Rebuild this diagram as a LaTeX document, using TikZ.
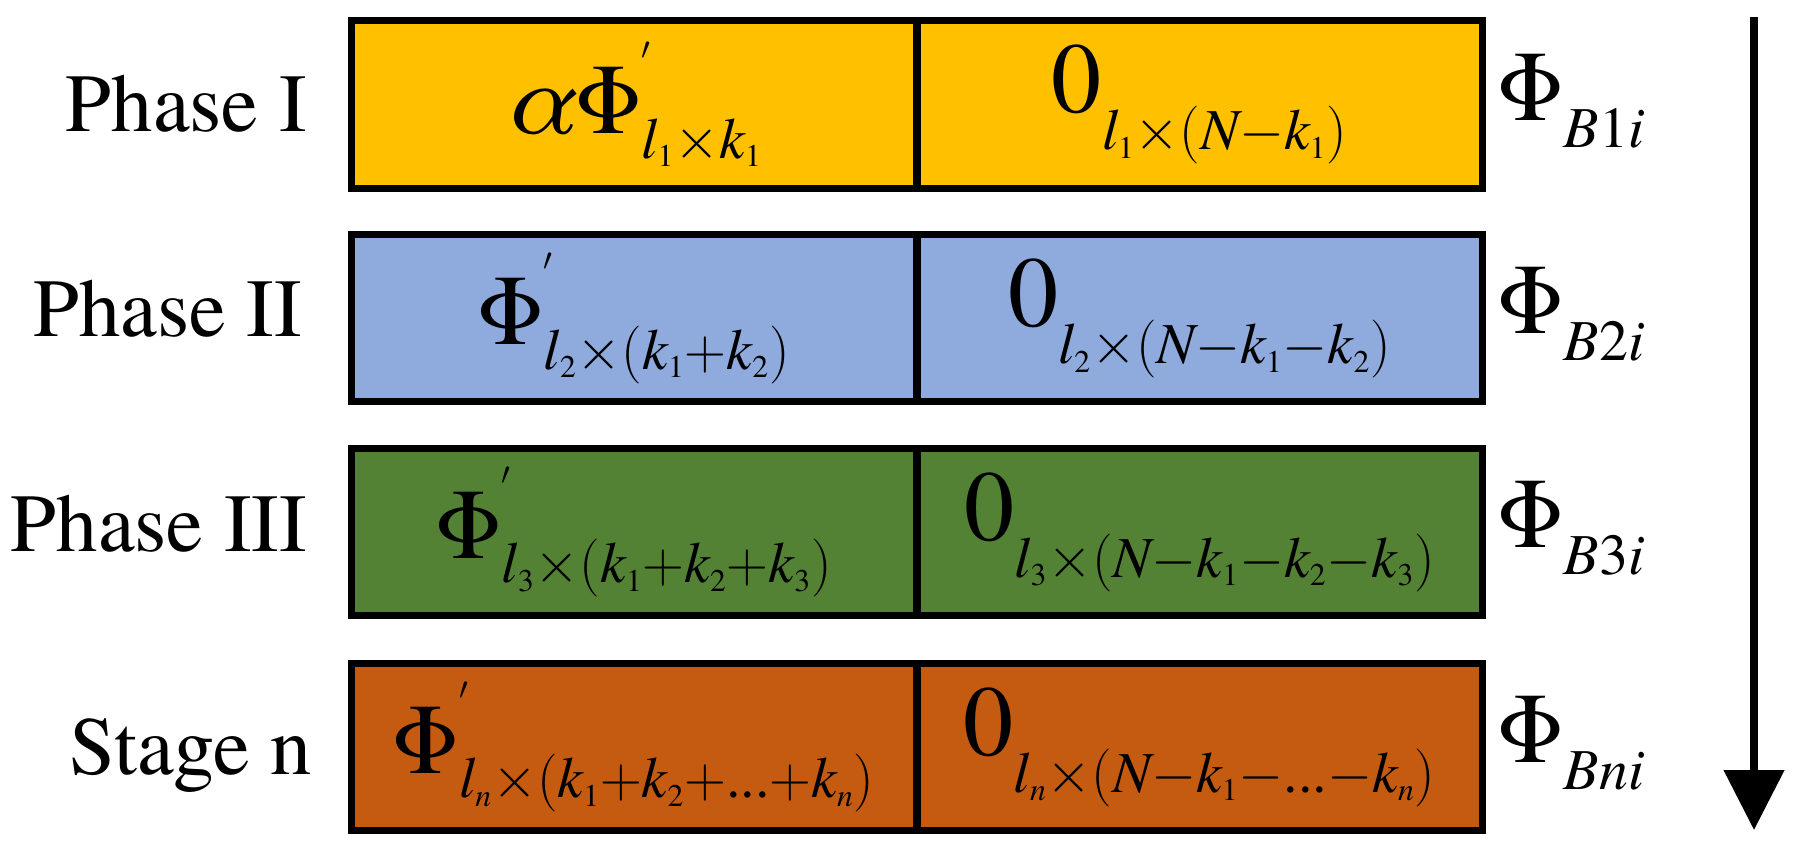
\RequirePackage{fix-cm}
\documentclass[tikz,border=0pt]{standalone}
\usepackage{amsmath}
\usepackage{fontspec}
\IfFontExistsTF{texgyretermes-regular.otf}{%
  \setmainfont{texgyretermes}[Extension=.otf,UprightFont=*-regular,ItalicFont=*-italic,BoldFont=*-bold,BoldItalicFont=*-bolditalic]}{%
  \setmainfont{DejaVu Serif}}
\usepackage{xcolor}
\usepackage{tikz}
\usetikzlibrary{arrows.meta}
\DeclareMathSizes{57}{57}{33}{18}
\definecolor{phaseyellow}{HTML}{FFC000}
\definecolor{phaseblue}{HTML}{8FAADC}
\definecolor{phasegreen}{HTML}{548235}
\definecolor{phaseorange}{HTML}{C55A11}
\newcommand{\mvar}[1]{\text{\itshape #1}}
\newcommand{\mnum}[1]{\text{\upshape #1}}
\newcommand{\phip}{\mnum{Φ}^{\raisebox{0.6cm}{$\scriptscriptstyle\prime$}}}
\newcommand{\lowsub}[2]{_{\raisebox{-#1}{$\scriptstyle #2$}}}
\tikzset{
  cellbox/.style={draw,line width=0.14cm,minimum width=11.32cm,minimum height=3.35cm,inner sep=0pt,font=\fontsize{57}{60}\selectfont},
  phaselabel/.style={anchor=base east,inner sep=0pt,font=\fontsize{47}{50}\selectfont},
  outlabel/.style={anchor=base west,inner sep=0pt,font=\fontsize{57}{60}\selectfont},
  flowarrow/.style={line width=0.16cm,-{Triangle[width=1.18cm,length=1.2cm]}}
}

\begin{document}
\begin{tikzpicture}[x=0.02cm,y=-0.02cm]
        \useasboundingbox (0,0) rectangle (1797,850);
        % phase I
        \node[phaselabel] (p1) at (307,131) {Phase I};
        \node[cellbox,fill=phaseyellow] (c1l) at (634,104.5) {$\mvar{α}\phip_{\mvar{l}_{\mnum{1}}\times\mvar{k}_{\mnum{1}}}$};
        \node[cellbox,fill=phaseyellow] (c1r) at (1200,104.5) {$\mnum{0}\lowsub{0.44cm}{\mvar{l}_{\mnum{1}}\times\left(\mvar{N}-\mvar{k}_{\mnum{1}}\right)}$};
        \node[outlabel] (b1) at (1497,120) {$\mnum{Φ}\lowsub{0.24cm}{\mvar{B}\mnum{1}\mvar{i}}$};
        % phase II
        \node[phaselabel] (p2) at (302,336) {Phase II};
        \node[cellbox,fill=phaseblue] (c2l) at (634,318.25) {$\phip_{\mvar{l}_{\mnum{2}}\times\left(\mvar{k}_{\mnum{1}}+\mvar{k}_{\mnum{2}}\right)}$};
        \node[cellbox,fill=phaseblue] (c2r) at (1200,318.25) {$\mnum{0}\lowsub{0.44cm}{\mvar{l}_{\mnum{2}}\times\left(\mvar{N}-\mvar{k}_{\mnum{1}}-\mvar{k}_{\mnum{2}}\right)}$};
        \node[outlabel] (b2) at (1497,333.75) {$\mnum{Φ}\lowsub{0.24cm}{\mvar{B}\mnum{2}\mvar{i}}$};
        % phase III
        \node[phaselabel] (p3) at (307,551) {Phase III};
        \node[cellbox,fill=phasegreen] (c3l) at (634,532) {$\phip_{\mvar{l}_{\mnum{3}}\times\left(\mvar{k}_{\mnum{1}}+\mvar{k}_{\mnum{2}}+\mvar{k}_{\mnum{3}}\right)}$};
        \node[cellbox,fill=phasegreen] (c3r) at (1200,532) {$\mnum{0}\lowsub{0.44cm}{\mvar{l}_{\mnum{3}}\times\left(\mvar{N}-\mvar{k}_{\mnum{1}}-\mvar{k}_{\mnum{2}}-\mvar{k}_{\mnum{3}}\right)}$};
        \node[outlabel] (b3) at (1497,547.5) {$\mnum{Φ}\lowsub{0.24cm}{\mvar{B}\mnum{3}\mvar{i}}$};
        % stage n
        \node[phaselabel] (p4) at (312,774) {Stage n};
        \node[cellbox,fill=phaseorange] (c4l) at (634,747) {$\phip_{\mvar{l}_{\mvar{n}}\times\left(\mvar{k}_{\mnum{1}}+\mvar{k}_{\mnum{2}}+\mnum{...}+\mvar{k}_{\mvar{n}}\right)}$};
        \node[cellbox,fill=phaseorange] (c4r) at (1200,747) {$\mnum{0}\lowsub{0.44cm}{\mvar{l}_{\mvar{n}}\times\left(\mvar{N}-\mvar{k}_{\mnum{1}}-\mnum{...}-\mvar{k}_{\mvar{n}}\right)}$};
        \node[outlabel] (b4) at (1497,762.5) {$\mnum{Φ}\lowsub{0.24cm}{\mvar{B}\mvar{n}\mvar{i}}$};
        % order of the stages
        \coordinate (arrtop) at (1754,17);
        \coordinate (arrtip) at (1754,830);
        \draw[flowarrow] (arrtop) -- (arrtip);
    \end{tikzpicture}
\end{document}
